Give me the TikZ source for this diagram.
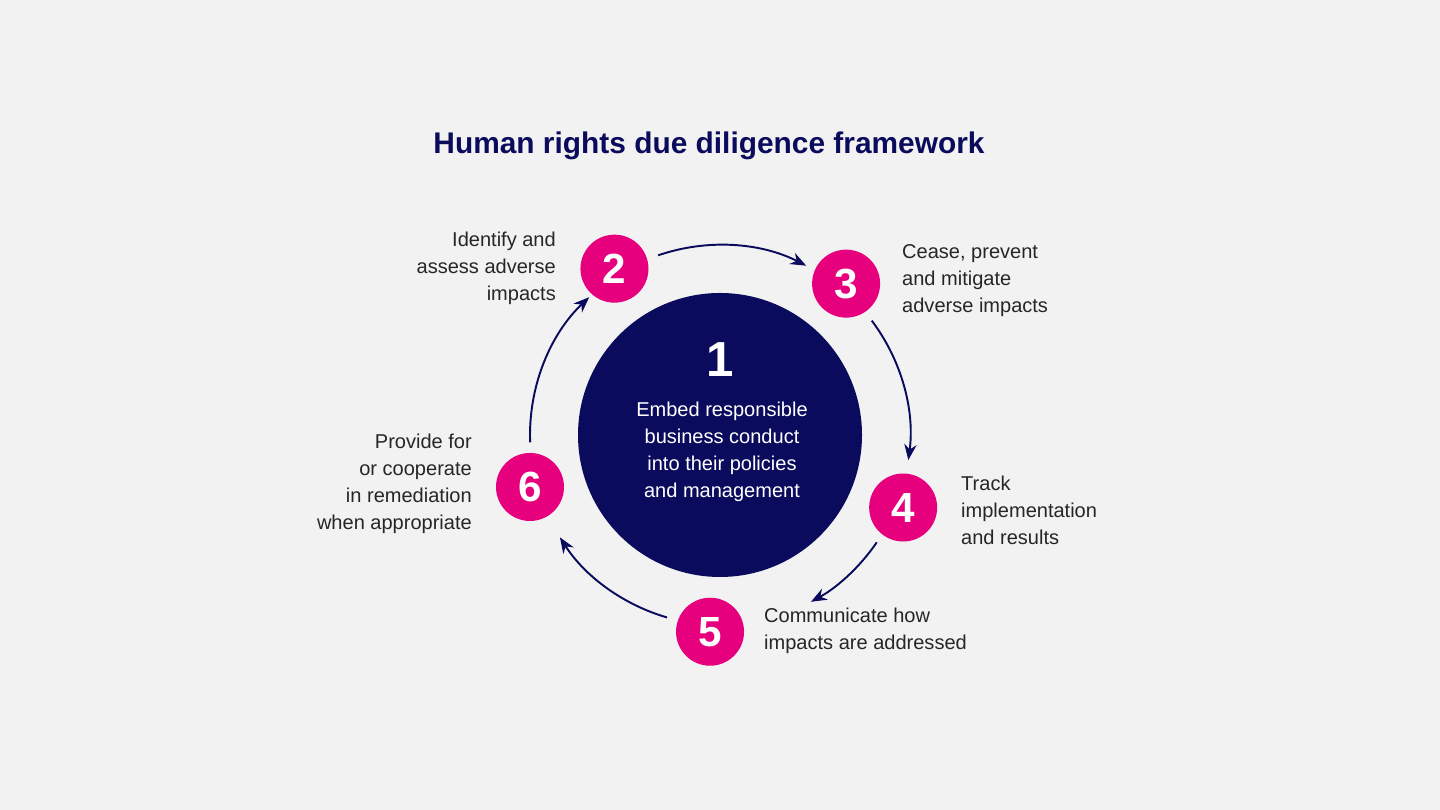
\documentclass[tikz,border=0pt]{standalone}
\usepackage{fontspec}
\setmainfont{Liberation Sans}
\usetikzlibrary{arrows.meta}
\definecolor{navy}{HTML}{0A0B5C}
\definecolor{pinkdot}{HTML}{E6007E}
\definecolor{bgray}{HTML}{F2F2F2}
\tikzset{
  stage/.style={circle,fill=pinkdot,minimum size=68*0.02cm,inner sep=0pt,text=white,font=\fontsize{24}{24}\selectfont\bfseries},
  note/.style={text=black!85,font=\fontsize{11.4}{15.4}\selectfont},
  flow/.style={navy,line width=1.1pt,-{Stealth[length=9pt,width=7pt]}}
}
\begin{document}
\begin{tikzpicture}[x=0.02cm,y=0.02cm]
\fill[bgray] (0,0) rectangle (1440,810);
\useasboundingbox (0,0) rectangle (1440,810);
\coordinate (C) at (720,375);
\node (title) at (709,664) {\color{navy}\fontsize{17}{20}\selectfont\bfseries Human rights due diligence framework};
% core
\node[circle,fill=navy,minimum size=284*0.02cm] (core) at (C) {};
\node[text=white,font=\fontsize{28}{28}\selectfont\bfseries] (one) at (720,450) {1};
\node[text=white,align=center,font=\fontsize{11.4}{15.4}\selectfont] (embed) at (722,358) {Embed responsible\\business conduct\\into their policies\\and management};
% stages
\node[stage] (s2) at ([shift={(122.4:197)}]C) {2};
\node[stage] (s3) at ([shift={(50.2:197)}]C) {3};
\node[stage] (s4) at ([shift={(-21.6:197)}]C) {4};
\node[stage] (s5) at ([shift={(-92.9:197)}]C) {5};
\node[stage] (s6) at ([shift={(195.3:197)}]C) {6};
% texts
\node[note,anchor=east,align=right] (t2) at (562,542) {Identify and\\assess adverse\\impacts};
\node[note,anchor=west,align=left] (t3) at (896,529) {Cease, prevent\\and mitigate\\adverse impacts};
\node[note,anchor=west,align=left] (t4) at (955,300) {Track\\implementation\\and results};
\node[note,anchor=west,align=left] (t5) at (758,179) {Communicate how\\impacts are addressed};
\node[note,anchor=east,align=right] (t6) at (478,326) {Provide for\\or cooperate\\in remediation\\when appropriate};
% arrows
\draw[flow] ([shift={(109:190)}]C) arc[start angle=109,end angle=63,radius=190];
\draw[flow] ([shift={(37:190)}]C) arc[start angle=37,end angle=-7.6,radius=190];
\draw[flow] ([shift={(-34.4:190)}]C) arc[start angle=-34.4,end angle=-61.4,radius=190];
\draw[flow] ([shift={(253.8:190)}]C) arc[start angle=253.8,end angle=212.6,radius=190];
\draw[flow] ([shift={(182.2:190)}]C) arc[start angle=182.2,end angle=133.5,radius=190];
\end{tikzpicture}
\end{document}
